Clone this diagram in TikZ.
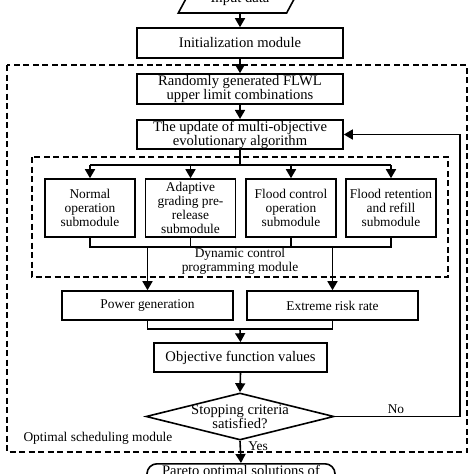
\documentclass[tikz,border=0pt]{standalone}
\usepackage{fontspec}
\setmainfont{Liberation Serif}
\usepackage{tikz}
\usetikzlibrary{arrows.meta,shapes.geometric}
\newcommand{\mainsize}{\fontsize{14.6}{14}\selectfont}
\newcommand{\smallsize}{\fontsize{13.4}{14.2}\selectfont}
\tikzset{
  block/.style={draw, line width=1.6pt, fill=white, minimum height=29,
              inner sep=1pt, align=center, font=\mainsize},
  subblock/.style={draw, line width=1.6pt, minimum width=90, minimum height=58,
              inner sep=0pt, align=center, font=\smallsize},
  decision/.style={draw, diamond, aspect=4, line width=1.6pt,
              minimum width=188, minimum height=47, inner sep=0pt},
  frame/.style={line width=1.4pt, dash pattern=on 6pt off 3.5pt},
  link/.style={line width=1.6pt},
  flow/.style={link, -{Triangle[length=9pt,width=10pt]}},
}

\begin{document}
\begin{tikzpicture}[x=1pt,y=1pt]
        \useasboundingbox (0,0) rectangle (474,-474);
        % dashed module frames
        \draw[frame] (7,-65) rectangle (467,-452);
        \draw[frame] (32,-157) rectangle (448,-277);
        \node[draw, line width=1.6pt, trapezium, trapezium left angle=62, trapezium right angle=118,
              trapezium stretches=true, minimum width=124, minimum height=28, font=\mainsize] (input) at (240,1) {Input data};
        \node[block,minimum width=206,minimum height=30] (init) at (240,-43) {Initialization module};
        \node[block,minimum width=206,minimum height=30] (rand) at (240,-89) {Randomly generated FLWL\\upper limit combinations};
        \node[block,minimum width=206] (update) at (240,-134.5) {The update of multi-objective\\evolutionary algorithm};
        \node[subblock] (normal) at (90,-208) {Normal\\operation\\submodule};
        \node[subblock] (adapt) at (190.5,-208) {Adaptive\\grading pre-\\release\\submodule};
        \node[subblock] (flood) at (291,-208) {Flood control\\operation\\submodule};
        \node[subblock] (refill) at (391,-208) {Flood retention\\and refill\\submodule};
        \node[font=\smallsize,align=center] (dcp) at (240,-261) {Dynamic control\\programming module};
        \node[block,minimum width=171,font=\smallsize] (power) at (147.5,-305.5) {Power generation};
        \node[block,minimum width=171,font=\smallsize] (risk) at (332.5,-305.5) {Extreme risk rate};
        \node[block,minimum width=173] (obj) at (240.5,-357.5) {Objective function values};
        \node[decision] (stop) at (240,-416.5) {};
        \node[font=\mainsize,align=center] (stoptext) at (stop) {Stopping criteria\\satisfied?};
        \node[font=\smallsize,anchor=west] (osm) at (20,-438) {Optimal scheduling module};
        \node[draw, line width=1.6pt, rounded corners=10pt, minimum width=188, inner ysep=1pt,
              text depth=30pt, anchor=north, font=\mainsize] (pareto) at (241,-463) {Pareto optimal solutions of};
        \coordinate (split) at (240,-165);
        \coordinate (merge) at (240,-247);
        \coordinate (join) at (240,-329);
        \coordinate (loop) at (460,-416.5);
        \draw[flow] (input) -- (init);
        \draw[flow] (init) -- (rand);
        \draw[flow] (rand) -- (update);
        \draw[link] (update.south) -- (split);
        \draw[link] (normal.north |- split) -- (refill.north |- split);
        \foreach \m in {normal,adapt,flood,refill} \draw[flow] (\m.north |- split) -- (\m.north);
        \foreach \m in {adapt,flood} \draw[link] (\m.south) -- (\m.south |- merge);
        \draw[link] (normal.south) -- (normal.south |- merge) -- (refill.south |- merge) -- (refill.south);
        \draw[flow] (power.north |- merge) -- (power.north);
        \draw[flow] (risk.north |- merge) -- (risk.north);
        \draw[link] (power.south) -- (power.south |- join) -- (risk.south |- join) -- (risk.south);
        \draw[flow] (join) -- (obj.north);
        \draw[flow] (obj.south) -- (stop.north);
        \draw[flow] (stop.east) -- (loop) |- (update.east);
        \node[font=\smallsize] (no) at (396,-409) {No};
        \draw[flow] (stop.south) -- (pareto.north);
        \node[font=\smallsize] (yes) at (258,-446) {Yes};
      \end{tikzpicture}
\end{document}
